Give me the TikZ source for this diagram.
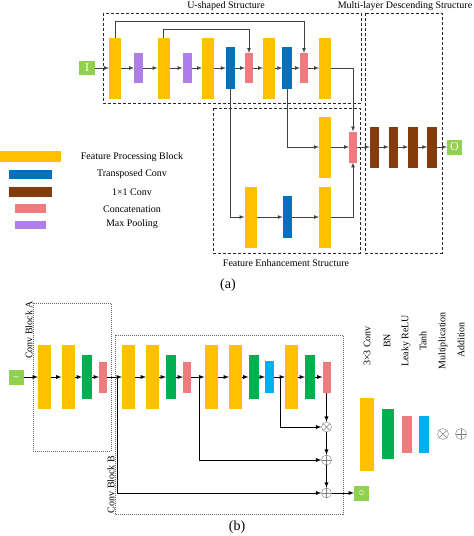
\documentclass[tikz,border=0pt]{standalone}
\usepackage{fontspec}
\setmainfont{Liberation Serif}
\usepackage{tikz}
\definecolor{fpyellow}{HTML}{FFC000}
\definecolor{tcblue}{HTML}{0070C0}
\definecolor{obrown}{HTML}{843C0C}
\definecolor{ccpink}{HTML}{EF7B7F}
\definecolor{mppurple}{HTML}{B07EE8}
\definecolor{iogreen}{HTML}{92D050}
\definecolor{bngreen}{HTML}{00B050}
\definecolor{thcyan}{HTML}{00B0F0}
\tikzset{
    blk/.style={rectangle, inner sep=0pt, outer sep=0pt},
    fpb/.style={blk, fill=fpyellow, minimum width=12pt, minimum height=61pt},
    tconv/.style={blk, fill=tcblue, minimum width=9.5pt, minimum height=42pt},
    onebyone/.style={blk, fill=obrown, minimum width=9.5pt, minimum height=41pt},
    concat/.style={blk, fill=ccpink, minimum width=8pt, minimum height=30pt},
    maxpool/.style={blk, fill=mppurple, minimum width=9pt, minimum height=30pt},
    io/.style={blk, fill=iogreen, minimum width=16pt, minimum height=14pt, text=white, font=\fontsize{12}{12}\selectfont},
    sio/.style={blk, fill=iogreen, minimum width=15pt, minimum height=15pt, text=white, font=\fontsize{7}{7}\selectfont},
    conv/.style={blk, fill=fpyellow, minimum width=13pt, minimum height=64pt},
    bn/.style={blk, fill=bngreen, minimum width=10pt, minimum height=44pt},
    lrelu/.style={blk, fill=ccpink, minimum width=8pt, minimum height=31pt},
    tanh/.style={blk, fill=thcyan, minimum width=9pt, minimum height=32pt},
    mul/.style={circle, draw=gray, inner sep=0pt, minimum size=10pt, path picture={\draw[gray, line width=0.5pt] (path picture bounding box.north west) -- (path picture bounding box.south east) (path picture bounding box.north east) -- (path picture bounding box.south west);}},
    add/.style={circle, draw=gray, inner sep=0pt, minimum size=10pt, path picture={\draw[gray, line width=0.5pt] (path picture bounding box.north) -- (path picture bounding box.south) (path picture bounding box.east) -- (path picture bounding box.west);}},
    lbl/.style={inner sep=0pt, font=\fontsize{10}{12}\selectfont},
    subcap/.style={inner sep=0pt, font=\fontsize{14}{16}\selectfont},
    dbox/.style={draw=black!85, line width=0.8pt, dash pattern=on 3pt off 2pt},
    pbox/.style={draw=black!60, line width=0.6pt, dash pattern=on 1pt off 1pt},
    aline/.style={draw=black!75, line width=0.7pt},
    bline/.style={draw=black, line width=0.9pt},
}
\begin{document}
\begin{tikzpicture}[x=1pt, y=-1pt, >=latex]
            \useasboundingbox (0,0) rectangle (474,536);
            % (a)
            \draw [dbox] (103,13) rectangle (361,103);
            \draw [dbox] (365,13) rectangle (442,253);
            \draw [dbox] (213,108) rectangle (360,253);
            \node [lbl] (tu) at (226,6) {U-shaped Structure};
            \node [lbl] (tm) at (405,6) {Multi-layer Descending Structure};
            \node [lbl] (tf) at (286,263) {Feature Enhancement Structure};
            \node [subcap] (ca) at (228,285) {(a)};
            \node [io] (in) at (87,68) {I};
            \node [fpb] (y1) at (115,68) {};
            \node [maxpool] (p1) at (138.5,68) {};
            \node [fpb] (y2) at (163.5,68) {};
            \node [maxpool] (p2) at (187,68) {};
            \node [fpb] (y3) at (208,68) {};
            \node [tconv] (b1) at (230.5,68) {};
            \node [concat] (k1) at (249,68) {};
            \node [fpb] (y4) at (269,68) {};
            \node [tconv] (b2) at (287,68) {};
            \node [concat] (k2) at (304,68) {};
            \node [fpb] (y5) at (325,68) {};
            \node [fpb] (fu) at (325,147) {};
            \node [fpb] (fy1) at (250.5,217) {};
            \node [tconv] (fb) at (287.5,217) {};
            \node [fpb] (fy2) at (325,217) {};
            \node [concat, minimum height=31pt] (k3) at (353,147) {};
            \node [onebyone] (c1) at (374.5,147) {};
            \node [onebyone] (c2) at (393.5,147) {};
            \node [onebyone] (c3) at (413,147) {};
            \node [onebyone] (c4) at (432,147) {};
            \node [io, minimum width=15pt, minimum height=15pt] (out) at (454.5,147) {O};
            \draw[aline, ->] (in) -- (y1);
            \draw[aline, ->] (y1) -- (p1);
            \draw[aline, ->] (p1) -- (y2);
            \draw[aline, ->] (y2) -- (p2);
            \draw[aline, ->] (p2) -- (y3);
            \draw[aline, ->] (y3) -- (b1);
            \draw[aline, ->] (b1) -- (k1);
            \draw[aline, ->] (k1) -- (y4);
            \draw[aline, ->] (y4) -- (b2);
            \draw[aline, ->] (b2) -- (k2);
            \draw[aline, ->] (k2) -- (y5);
            \draw[aline, ->] (y1.north) -- ++(0,-16.5) -| (k2.north);
            \draw[aline, ->] (y2.north) -- ++(0,-8.5) -| (k1.north);
            \draw[aline, ->] (y5.east) -| (k3.north);
            \draw[aline, ->] (b1.south) |- (fy1.west);
            \draw[aline, ->] (b2.south) |- (fu.west);
            \draw[aline, ->] (fu) -- (k3);
            \draw[aline, ->] (fy1) -- (fb);
            \draw[aline, ->] (fb) -- (fy2);
            \draw[aline, ->] (fy2.east) -| (k3.south);
            \draw[aline, ->] (k3) -- (c1);
            \draw[aline, ->] (c1) -- (c2);
            \draw[aline, ->] (c2) -- (c3);
            \draw[aline, ->] (c3) -- (c4);
            \draw[aline, ->] (c4) -- (out);
            % legend (a)
            \node [fpb, minimum width=61pt, minimum height=11pt] (lfpb) at (30.5,156.5) {};
            \node [tconv, minimum width=43pt, minimum height=9pt] (ltc) at (30.5,174.5) {};
            \node [onebyone, minimum width=43pt, minimum height=10pt] (lob) at (30.5,192) {};
            \node [concat, minimum width=31pt, minimum height=9pt] (lcc) at (30.5,208.5) {};
            \node [maxpool, minimum width=31pt, minimum height=8pt] (lmp) at (30.5,225) {};
            \node [lbl] (tfpb) at (132,157) {Feature Processing Block};
            \node [lbl] (ttc) at (132,174.5) {Transposed Conv};
            \node [lbl] (tob) at (132,192) {1×1 Conv};
            \node [lbl] (tcc) at (132,209) {Concatenation};
            \node [lbl] (tmp) at (132,224.5) {Max Pooling};
            % (b)
            \draw [pbox] (33,303) rectangle (111,451);
            \draw [pbox] (115,335) rectangle (343,514);
            \node [lbl, rotate=90] (tba) at (29,330) {Conv Block A};
            \node [lbl, rotate=90] (tbb) at (111,484.5) {Conv Block B};
            \node [subcap] (cb) at (237,527) {(b)};
            \node [sio] (bin) at (16,377) {\rotatebox{90}{I}};
            \node [conv] (v1) at (44.5,377) {};
            \node [conv] (v2) at (68,377) {};
            \node [bn] (n1) at (87,377) {};
            \node [lrelu] (r1) at (103,377) {};
            \node [conv] (v3) at (128.5,377) {};
            \node [conv] (v4) at (152.5,377) {};
            \node [bn] (n2) at (171,377) {};
            \node [lrelu] (r2) at (187,377) {};
            \node [conv] (v5) at (211,377) {};
            \node [conv] (v6) at (235.5,377) {};
            \node [bn] (n3) at (253.5,377) {};
            \node [tanh] (h1) at (269.5,377) {};
            \node [conv] (v7) at (291.5,377) {};
            \node [bn] (n4) at (310,377) {};
            \node [lrelu] (r3) at (326.5,377) {};
            \node [mul] (m1) at (326.5,427) {};
            \node [add] (a1) at (326.5,460) {};
            \node [add] (a2) at (326.5,493) {};
            \node [sio] (bout) at (361.5,493) {\rotatebox{90}{O}};
            \coordinate (j1) at (117,377);
            \coordinate (j2) at (199,377);
            \coordinate (j3) at (280,377);
            \draw[bline, ->] (bin) -- (v1);
            \draw[bline, ->] (v1) -- (v2);
            \draw[bline, ->] (v2) -- (n1);
            \draw[bline, ->] (n1) -- (r1);
            \draw[bline, ->] (r1) -- (v3);
            \draw[bline, ->] (v3) -- (v4);
            \draw[bline, ->] (v4) -- (n2);
            \draw[bline, ->] (n2) -- (r2);
            \draw[bline, ->] (r2) -- (v5);
            \draw[bline, ->] (v5) -- (v6);
            \draw[bline, ->] (v6) -- (n3);
            \draw[bline, ->] (n3) -- (h1);
            \draw[bline, ->] (h1) -- (v7);
            \draw[bline, ->] (v7) -- (n4);
            \draw[bline, ->] (n4) -- (r3);
            \draw[bline, ->] (r3) -- (m1);
            \draw[bline, ->] (m1) -- (a1);
            \draw[bline, ->] (a1) -- (a2);
            \draw[bline, ->] (a2) -- (bout);
            \draw[bline, ->] (j3) |- (m1);
            \draw[bline, ->] (j2) |- (a1);
            \draw[bline, ->] (j1) |- (a2);
            % legend (b)
            \node [conv, minimum width=14pt, minimum height=73pt] (lv) at (367,434.5) {};
            \node [bn, minimum width=12pt, minimum height=50pt] (ln) at (388,434) {};
            \node [lrelu, minimum width=10pt, minimum height=37pt] (lr) at (407,434.5) {};
            \node [tanh, minimum width=10pt, minimum height=37pt] (lh) at (424,434.5) {};
            \node [mul, minimum size=11pt] (lm) at (443,434) {};
            \node [add, minimum size=11pt] (la) at (461,434) {};
            \node [lbl, rotate=90] (tv) at (367,346) {3×3 Conv};
            \node [lbl, rotate=90] (tn) at (387,341) {BN};
            \node [lbl, rotate=90] (tr) at (406,341) {Leaky ReLU};
            \node [lbl, rotate=90] (th) at (423,341) {Tanh};
            \node [lbl, rotate=90] (tm2) at (443,341) {Multiplication};
            \node [lbl, rotate=90] (ta2) at (461,340) {Addition};
\end{tikzpicture}
\end{document}
